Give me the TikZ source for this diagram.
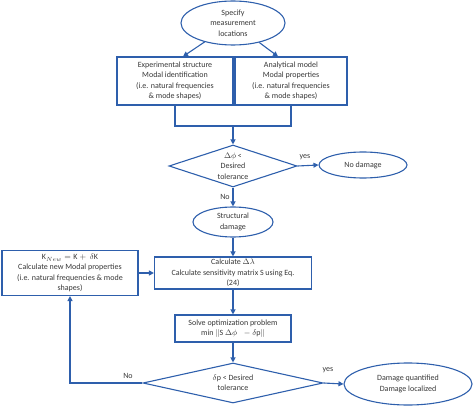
\documentclass[tikz,border=0pt]{standalone}
\usepackage{fontspec}
\setmainfont{Carlito}
\usetikzlibrary{shapes.geometric,arrows.meta,calc}
\definecolor{fblue}{RGB}{46,95,172}
\definecolor{ftext}{RGB}{55,55,55}
\begin{document}
\begin{tikzpicture}[x=1pt,y=-1pt,
  font=\fontsize{8}{10.3}\selectfont,
  box/.style={draw=fblue, line width=1.1pt, rectangle, align=center, inner sep=0pt, text=ftext},
  oval/.style={draw=fblue, line width=1.1pt, ellipse, align=center, inner sep=0pt, text=ftext},
  dia/.style={draw=fblue, line width=1.1pt, diamond, align=center, inner sep=0pt, text=ftext},
  conn/.style={draw=fblue, line width=1.1pt},
  arr/.style={conn, -{Triangle[length=5pt,width=5pt]}},
  lbl/.style={text=ftext, inner sep=0pt}]
\useasboundingbox (0,0) rectangle (474,406);

\node[oval, minimum width=104pt, minimum height=44pt] (start) at (233,23) {Specify\\measurement\\locations};
\node[box, minimum width=116pt, minimum height=48pt] (exp) at (175,81) {Experimental structure\\Modal identification\\(i.e. natural frequencies\\\& mode shapes)};
\node[box, minimum width=112pt, minimum height=48pt] (ana) at (291,81) {Analytical model\\Modal properties\\(i.e. natural frequencies\\\& mode shapes)};
\node[dia, aspect=3, minimum width=128pt, minimum height=42pt] (d1) at (233,166) {$\Delta\phi$ <\\Desired\\tolerance};
\node[oval, minimum width=88pt, minimum height=26pt] (nd) at (363,165) {No damage};
\node[oval, minimum width=80pt, minimum height=30pt] (sd) at (233,222) {Structural\\damage};
\node[box, minimum width=136pt, minimum height=45pt] (kb) at (70,273) {$\mathrm{K}_{New}=\mathrm{K}+\ \delta\mathrm{K}$\\Calculate new Modal properties\\(i.e. natural frequencies \& mode\\shapes)};
\node[box, minimum width=157pt, minimum height=32pt] (cb) at (233,273) {Calculate $\Delta\lambda$\\Calculate sensitivity matrix S using Eq.\\(24)};
\node[box, minimum width=116pt, minimum height=27pt] (sb) at (233,328.5) {Solve optimization problem\\min $\|$S $\Delta\phi\;\;-\delta$p$\|$};
\node[dia, aspect=4, minimum width=180pt, minimum height=40pt] (d2) at (233,383) {$\delta$p < Desired\\tolerance};
\node[oval, minimum width=128pt, minimum height=42pt] (fin) at (408,384) {Damage quantified\\Damage localized};

\node[lbl] (yes1) at (305,157) {yes};
\node[lbl] (no1) at (225,197) {No};
\node[lbl] (yes2) at (328,370) {yes};
\node[lbl] (no2) at (128,376) {No};

\draw[arr] (start) -- ($(exp.north)+(8,0)$);
\draw[arr] (start) -- ($(ana.north)+(-13,0)$);
\coordinate (j) at (233,126);
\draw[conn] (exp.south) |- (j) -| (ana.south);
\draw[arr] (j) -- (d1.north);
\draw[arr] (d1.east) -- (nd.west);
\draw[arr] (d1.south) -- (sd.north);
\draw[arr] (sd.south) -- (cb.north);
\draw[arr] (kb.east) -- (cb.west);
\draw[arr] (cb.south) -- (sb.north);
\draw[arr] (sb.south) -- (d2.north);
\draw[arr] (d2.east) -- (fin.west);
\coordinate (fb) at (70,383);
\draw[arr] (d2.west) -- (fb) -- (kb.south);
\end{tikzpicture}
\end{document}
